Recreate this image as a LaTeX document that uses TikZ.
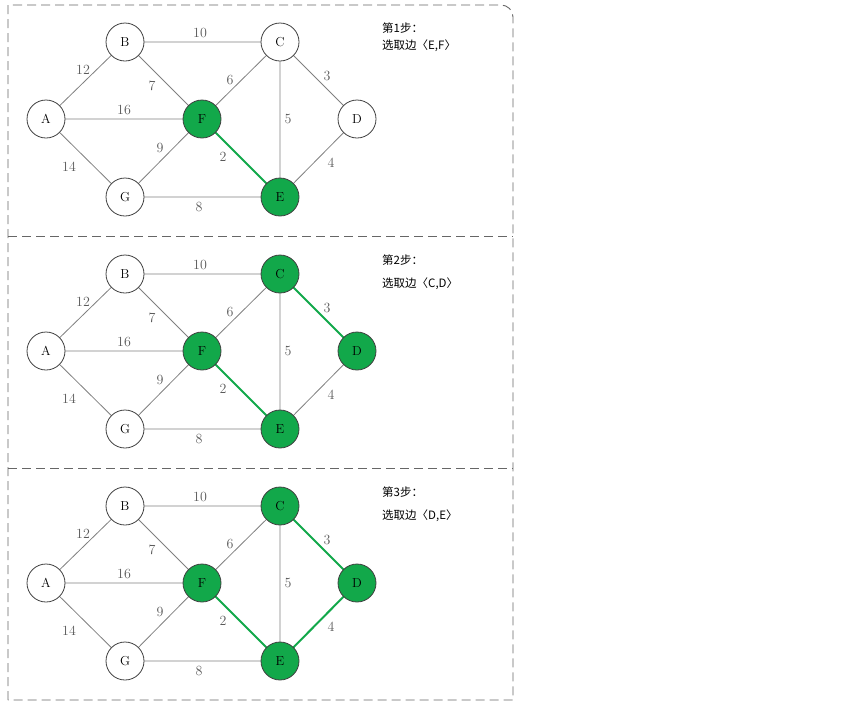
\documentclass[tikz,border=0pt]{standalone}
\usepackage{fontspec}
\newfontfamily\cjk{Noto Sans CJK SC}
\definecolor{gr}{HTML}{12A84A}
\definecolor{ln}{HTML}{808080}
\begin{document}
\begin{tikzpicture}[x=1pt,y=-1pt,
  vtx/.style={circle,draw=black!75,line width=0.8pt,minimum size=38pt,inner sep=0pt,fill=white,font=\fontsize{13}{13}\selectfont},
  sel/.style={vtx,fill=gr},
  edge/.style={draw=ln,line width=0.8pt},
  gedge/.style={draw=gr,line width=2pt},
  wt/.style={text=black!65,font=\fontsize{14}{14}\selectfont,inner sep=0pt},
  frame/.style={dash pattern=on 9pt off 5pt,line width=0.9pt,black!60},
  note/.style={anchor=west,inner sep=0pt,font=\cjk\fontsize{11.5}{14}\selectfont}]
\useasboundingbox (0,0) rectangle (861,702);
\draw[frame] (8,700) -- (8,5) [rounded corners=12pt] -- (513,5) [sharp corners] -- (513,700) -- cycle;
\draw[frame] (8,236) -- (513,236) (8,468) -- (513,468);
\foreach \k/\oy in {1/0,2/232,3/464}{
\begin{scope}[yshift=-\oy]
\coordinate (A\k) at (46,119);
\coordinate (B\k) at (125,42);
\coordinate (G\k) at (125,197);
\coordinate (C\k) at (280,42);
\coordinate (D\k) at (357,119);
\coordinate (F\k) at (202,119);
\coordinate (E\k) at (280,197);
\draw[edge] (A\k)--(B\k) (A\k)--(F\k) (A\k)--(G\k) (B\k)--(C\k) (B\k)--(F\k) (G\k)--(F\k) (G\k)--(E\k) (F\k)--(C\k) (C\k)--(E\k);
\draw[gedge] (F\k)--(E\k);
\ifnum\k>1 \draw[gedge] (C\k)--(D\k); \else \draw[edge] (C\k)--(D\k); \fi
\ifnum\k>2 \draw[gedge] (D\k)--(E\k); \else \draw[edge] (D\k)--(E\k); \fi
\node[wt] at (200,33) {10};
\node[wt] at (83,70) {12};
\node[wt] at (152,86) {7};
\node[wt] at (230,80) {6};
\node[wt] at (327,76) {3};
\node[wt] at (124,110) {16};
\node[wt] at (288,119) {5};
\node[wt] at (160,148) {9};
\node[wt] at (223,157) {2};
\node[wt] at (331,163) {4};
\node[wt] at (69,167) {14};
\node[wt] at (199,207) {8};
\node[note] at (382,28) {第\k 步：};
\node[vtx] (nA\k) at (A\k) {A}; \node[vtx] (nB\k) at (B\k) {B}; \node[vtx] (nG\k) at (G\k) {G};
\node[sel] (nF\k) at (F\k) {F}; \node[sel] (nE\k) at (E\k) {E};
\ifnum\k=1 \node[vtx] (nC\k) at (C\k) {C}; \node[vtx] (nD\k) at (D\k) {D};
\else \node[sel] (nC\k) at (C\k) {C}; \node[sel] (nD\k) at (D\k) {D}; \fi
\end{scope}
}
\node[note] at (382,46) {选取边〈E,F〉};
\node[note] at (382,284) {选取边〈C,D〉};
\node[note] at (382,516) {选取边〈D,E〉};
\end{tikzpicture}
\end{document}
